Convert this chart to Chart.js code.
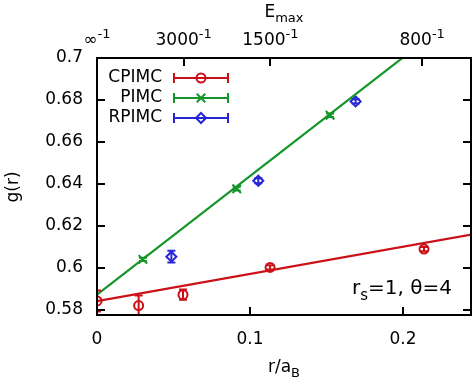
<!DOCTYPE html>
<html>
<head>
<meta charset="utf-8">
<script src="https://cdn.jsdelivr.net/npm/chart.js@4.4.0/dist/chart.umd.min.js"></script>
<style>
  html, body { margin: 0; padding: 0; background: #fff; }
  canvas { display: block; }
</style>
</head>
<body>
<canvas id="chart" width="474" height="377"></canvas>
<script>
// g(r) at r -> 0, rs=1, theta=4
var rCPIMC = [0, 0.0272, 0.0562, 0.1131, 0.2137];
var gCPIMC = [0.5842, 0.5820, 0.5872, 0.6002, 0.6089];
var errCPIMC = [0.0050, 0.0048, 0.0024, 0.0010, 0.0010];

var rPIMC = [0.0300, 0.0913, 0.1523];
var gPIMC = [0.6040, 0.6377, 0.6727];
var errPIMC = [0.0008, 0.0008, 0.0008];

var rRPIMC = [0.0486, 0.1054, 0.1690];
var gRPIMC = [0.6053, 0.6415, 0.6793];
var errRPIMC = [0.0028, 0.0012, 0.0010];

// linear fits (end points)
var fitR = [0, 0.245];
var fitCPIMC = [0.5841, 0.6159];
var fitPIMC = [0.5872, 0.7257];

var xTicks = [0, 0.1, 0.2];
var yTicks = [0.58, 0.6, 0.62, 0.64, 0.66, 0.68, 0.7];
var emaxTickPos = [0, 0.0566, 0.1133, 0.2125];
var emaxLabels = ['\u221e', '3000', '1500', '800'];

var RED = '#cc1018';
var GREEN = '#15962a';
var BLUE = '#2626d8';
var FONT = 'DejaVu Sans';

function pts(xs, ys) {
    return xs.map(function (x, i) { return { x: x, y: ys[i] }; });
}

var series = [
    { label: 'CPIMC', color: RED, style: 'circle', radius: 4.5, xs: rCPIMC, ys: gCPIMC, err: errCPIMC },
    { label: 'PIMC', color: GREEN, style: 'crossRot', radius: 6, xs: rPIMC, ys: gPIMC, err: errPIMC },
    { label: 'RPIMC', color: BLUE, style: 'rectRot', radius: 5, xs: rRPIMC, ys: gRPIMC, err: errRPIMC }
];

var datasets = [
    { type: 'line', data: pts(fitR, fitCPIMC), borderColor: RED, borderWidth: 2.2, pointRadius: 0, clip: 0 },
    { type: 'line', data: pts(fitR, fitPIMC), borderColor: GREEN, borderWidth: 2.2, pointRadius: 0, clip: 0 }
];
series.forEach(function (s) {
    datasets.push({
        type: 'scatter',
        label: s.label,
        data: pts(s.xs, s.ys),
        borderColor: s.color,
        backgroundColor: 'rgba(0,0,0,0)',
        pointStyle: s.style,
        pointRadius: s.radius,
        pointBorderWidth: 2,
        clip: 0
    });
});

function font(px) { return px + 'px "' + FONT + '"'; }

// text with sub/superscript pieces: [text, shift, size]
function rich(ctx, parts, x, y, align) {
    var w = 0;
    parts.forEach(function (p) { ctx.font = font(p[2]); w += ctx.measureText(p[0]).width; });
    var cx = align === 'center' ? x - w / 2 : x;
    ctx.textAlign = 'left';
    parts.forEach(function (p) {
        ctx.font = font(p[2]);
        ctx.fillText(p[0], cx, y + p[1]);
        cx += ctx.measureText(p[0]).width;
    });
}

function noPad(s) {
    s.paddingLeft = 0; s.paddingRight = 0; s.paddingTop = 0; s.paddingBottom = 0;
}

var decor = {
    id: 'decor',
    afterDatasetsDraw: function (chart) {
        var ctx = chart.ctx, a = chart.chartArea;
        var sx = chart.scales.x, sy = chart.scales.y, sx2 = chart.scales.x2;
        ctx.save();
        // error bars
        ctx.beginPath();
        ctx.rect(a.left, a.top, a.right - a.left, a.bottom - a.top);
        ctx.clip();
        ctx.lineWidth = 2;
        series.forEach(function (s) {
            ctx.strokeStyle = s.color;
            s.xs.forEach(function (x, i) {
                var px = sx.getPixelForValue(x);
                var y1 = sy.getPixelForValue(s.ys[i] - s.err[i]);
                var y2 = sy.getPixelForValue(s.ys[i] + s.err[i]);
                ctx.beginPath();
                ctx.moveTo(px, y1); ctx.lineTo(px, y2);
                ctx.moveTo(px - 4, y1); ctx.lineTo(px + 4, y1);
                ctx.moveTo(px - 4, y2); ctx.lineTo(px + 4, y2);
                ctx.stroke();
            });
        });
        ctx.restore();

        ctx.save();
        // frame and inward ticks
        ctx.strokeStyle = '#000';
        ctx.lineWidth = 2;
        ctx.strokeRect(a.left, a.top, a.right - a.left, a.bottom - a.top);
        ctx.beginPath();
        yTicks.forEach(function (v) {
            var py = Math.round(sy.getPixelForValue(v));
            ctx.moveTo(a.left, py); ctx.lineTo(a.left + 8, py);
            ctx.moveTo(a.right, py); ctx.lineTo(a.right - 8, py);
        });
        xTicks.forEach(function (v) {
            var px = Math.round(sx.getPixelForValue(v));
            ctx.moveTo(px, a.bottom); ctx.lineTo(px, a.bottom - 8);
        });
        emaxTickPos.forEach(function (v) {
            var px = Math.round(sx2.getPixelForValue(v));
            ctx.moveTo(px, a.top); ctx.lineTo(px, a.top + 8);
        });
        ctx.stroke();

        // top axis labels  E^-1
        ctx.fillStyle = '#000';
        ctx.textBaseline = 'alphabetic';
        emaxTickPos.forEach(function (v, i) {
            rich(ctx, [[emaxLabels[i], 0, 17], ['-1', -7, 13]], sx2.getPixelForValue(v), 45, 'center');
        });

        // legend
        ctx.font = font(17);
        ctx.textBaseline = 'middle';
        series.forEach(function (s, i) {
            var y = 78 + i * 20;
            ctx.fillStyle = '#000';
            ctx.textAlign = 'right';
            ctx.fillText(s.label, 162, y);
            ctx.strokeStyle = s.color;
            ctx.fillStyle = 'rgba(0,0,0,0)';
            ctx.lineWidth = 2;
            ctx.beginPath();
            ctx.moveTo(174, y); ctx.lineTo(228, y);
            ctx.moveTo(174, y - 5); ctx.lineTo(174, y + 5);
            ctx.moveTo(228, y - 5); ctx.lineTo(228, y + 5);
            ctx.stroke();
            Chart.helpers.drawPoint(ctx, { pointStyle: s.style, radius: s.radius, borderWidth: 2, rotation: 0 }, 201, y);
        });

        // axis titles and annotation
        ctx.fillStyle = '#000';
        ctx.textBaseline = 'alphabetic';
        rich(ctx, [['r/a', 0, 17], ['B', 5, 13]], 284, 372, 'center');
        rich(ctx, [['E', 0, 17], ['max', 5, 13]], 284, 17, 'center');
        rich(ctx, [['r', 0, 20], ['s', 6, 15], ['=1, \u03b8=4', 0, 20]], 352, 294, 'left');

        ctx.save();
        ctx.translate(18, 187);
        ctx.rotate(-Math.PI / 2);
        ctx.font = font(17);
        ctx.textAlign = 'center';
        ctx.fillText('g(r)', 0, 0);
        ctx.restore();

        ctx.restore();
    }
};

var tickFont = { family: FONT, size: 17 };

new Chart(document.getElementById('chart').getContext('2d'), {
    data: { datasets: datasets },
    options: {
        responsive: false,
        animation: false,
        layout: { autoPadding: false, padding: { left: 0, right: 3, top: 0, bottom: 0 } },
        plugins: { legend: { display: false }, tooltip: { enabled: false } },
        scales: {
            x: {
                type: 'linear', position: 'bottom', min: 0, max: 0.2444,
                afterBuildTicks: function (s) { s.ticks = xTicks.map(function (v) { return { value: v }; }); },
                afterFit: function (s) { s.height = 62; noPad(s); },
                ticks: { font: tickFont, color: '#000', padding: 14, maxRotation: 0, autoSkip: false,
                         callback: function (v) { return String(v); } },
                grid: { display: false, drawTicks: false },
                border: { display: false }
            },
            x2: {
                type: 'linear', position: 'top', min: 0, max: 0.2444,
                afterBuildTicks: function (s) { s.ticks = emaxTickPos.map(function (v) { return { value: v }; }); },
                afterFit: function (s) { s.height = 58; noPad(s); },
                ticks: { display: false },
                grid: { display: false, drawTicks: false },
                border: { display: false }
            },
            y: {
                type: 'linear', min: 0.5775, max: 0.7,
                afterBuildTicks: function (s) { s.ticks = yTicks.map(function (v) { return { value: v }; }); },
                afterFit: function (s) { s.width = 97; noPad(s); },
                ticks: { font: tickFont, color: '#000', padding: 14, autoSkip: false,
                         callback: function (v) { return String(Math.round(v * 100) / 100); } },
                grid: { display: false, drawTicks: false },
                border: { display: false }
            }
        }
    },
    plugins: [decor]
});
</script>
</body>
</html>
